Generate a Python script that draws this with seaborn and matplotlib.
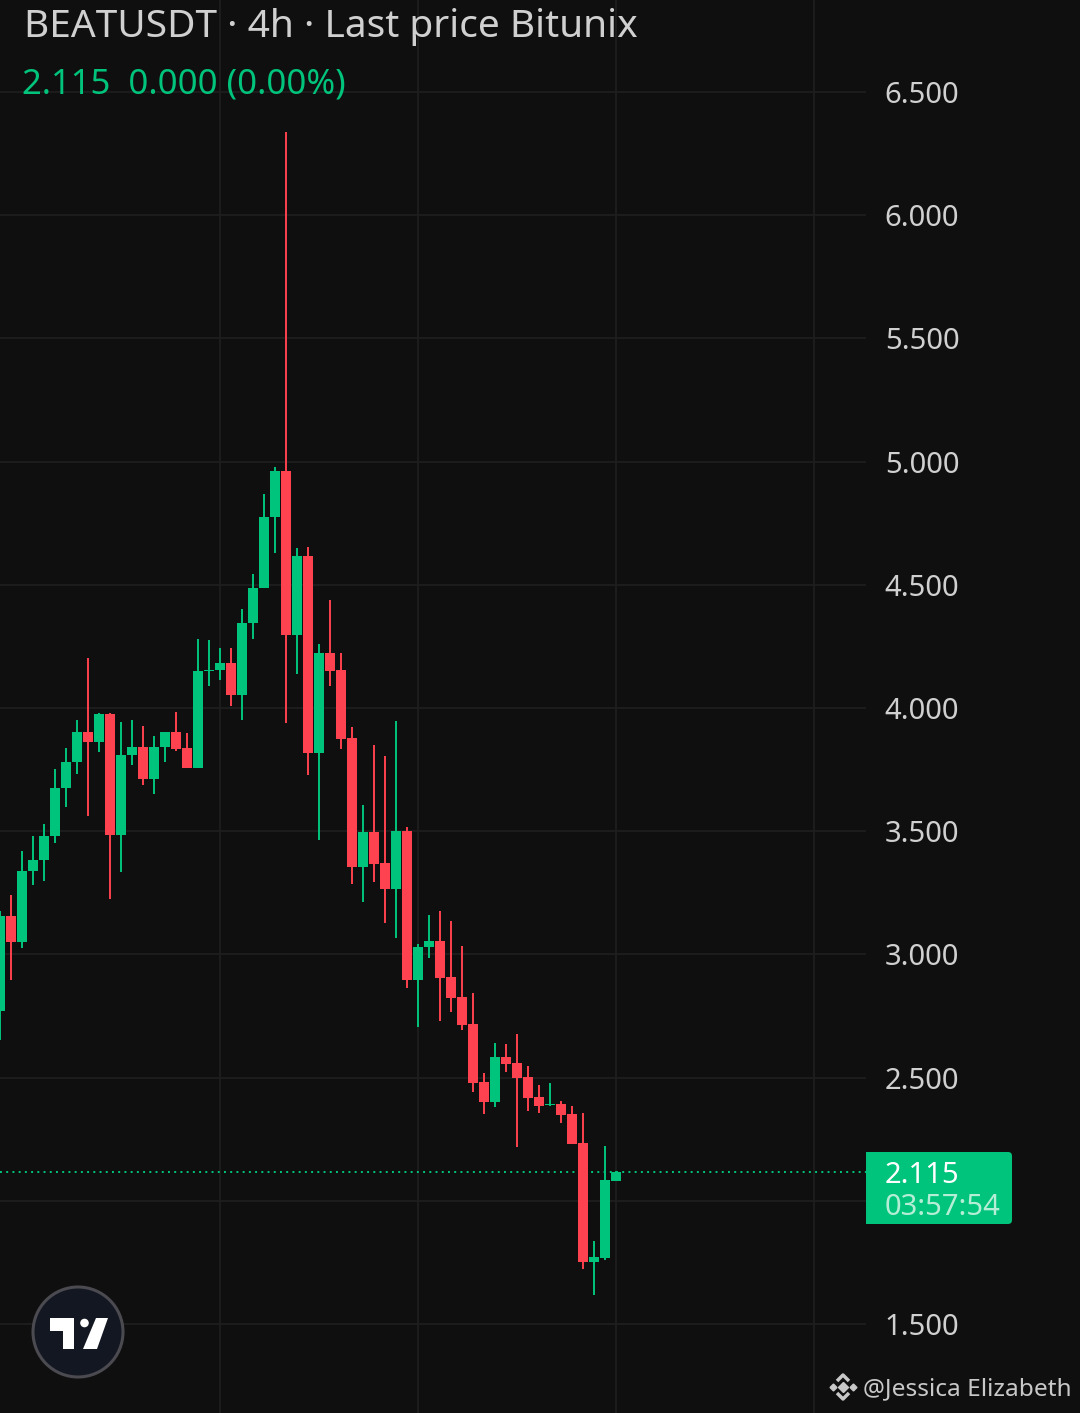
import numpy as np
import pandas as pd
import seaborn as sns
import matplotlib.pyplot as plt
from matplotlib.patches import Circle, Polygon, Rectangle, FancyBboxPatch

# 4h candles (oldest first)
opens = [2.772, 3.156, 3.052, 3.338, 3.383, 3.481, 3.675, 3.781, 3.903, 3.863,
         3.976, 3.486, 3.809, 3.842, 3.713, 3.842, 3.903, 3.838, 3.758, 4.150,
         4.155, 4.183, 4.053, 4.345, 4.487, 4.775, 4.962, 4.296, 4.617, 3.817,
         4.223, 4.154, 3.878, 3.355, 3.497, 3.371, 3.265, 3.501, 2.896, 3.030,
         3.054, 2.908, 2.827, 2.718, 2.482, 2.401, 2.584, 2.559, 2.502, 2.421,
         2.389, 2.393, 2.352, 2.235, 1.752, 1.768, 2.080]
highs = [3.176, 3.241, 3.420, 3.481, 3.529, 3.752, 3.838, 3.951, 4.203, 3.978,
         3.980, 3.943, 3.951, 3.927, 3.886, 3.903, 3.984, 3.899, 4.280, 4.276,
         4.244, 4.244, 4.402, 4.544, 4.869, 4.978, 6.338, 4.649, 4.653, 4.260,
         4.438, 4.223, 3.923, 3.606, 3.850, 3.805, 3.947, 3.517, 3.042, 3.160,
         3.176, 3.136, 3.034, 2.843, 2.519, 2.640, 2.636, 2.677, 2.547, 2.470,
         2.478, 2.405, 2.385, 2.356, 1.837, 2.222, 2.123]
lows = [2.653, 2.896, 3.027, 3.282, 3.298, 3.453, 3.599, 3.733, 3.563, 3.823,
        3.226, 3.336, 3.770, 3.689, 3.652, 3.781, 3.827, 3.758, 3.758, 4.089,
        4.114, 4.008, 3.951, 4.280, 4.487, 4.629, 3.939, 4.138, 3.728, 3.464,
        4.089, 3.834, 3.286, 3.213, 3.294, 3.127, 3.067, 2.864, 2.705, 2.985,
        2.730, 2.766, 2.693, 2.442, 2.352, 2.381, 2.523, 2.218, 2.364, 2.356,
        2.385, 2.316, 2.231, 1.723, 1.618, 1.760, 2.080]
closes = [3.156, 3.052, 3.338, 3.383, 3.481, 3.675, 3.781, 3.903, 3.863, 3.976,
          3.486, 3.809, 3.842, 3.713, 3.842, 3.903, 3.835, 3.758, 4.150, 4.155,
          4.183, 4.053, 4.345, 4.487, 4.775, 4.962, 4.296, 4.617, 3.817, 4.223,
          4.150, 3.874, 3.355, 3.497, 3.367, 3.265, 3.501, 2.896, 3.030, 3.054,
          2.904, 2.823, 2.714, 2.478, 2.401, 2.584, 2.555, 2.498, 2.417, 2.385,
          2.393, 2.348, 2.231, 1.752, 1.772, 2.084, 2.115]

price_ticks = [1.5, 2.0, 2.5, 3.0, 3.5, 4.0, 4.5, 5.0, 5.5, 6.0, 6.5]
day_marks = [20, 38, 56, 74]
last_price = 2.115
title = "BEATUSDT · 4h · Last price Bitunix"
change_text = "2.115  0.000 (0.00%)"
countdown = "03:57:54"
credit = "@Jessica Elizabeth"

bg = "#0f0f0f"
grid_c = "#1e1e1e"
up_c = "#00c47c"
down_c = "#ff424f"
text_c = "#d0d0d0"

df = pd.DataFrame({"open": opens, "high": highs, "low": lows, "close": closes})
df["idx"] = np.arange(len(df))
df["up"] = df["close"] >= df["open"]
df["color"] = np.where(df["up"], up_c, down_c)
df["bottom"] = df[["open", "close"]].min(axis=1)
df["height"] = (df["close"] - df["open"]).abs().clip(lower=0.005)

sns.set_theme(style="dark", rc={
    "axes.facecolor": bg, "figure.facecolor": bg,
    "axes.edgecolor": bg, "grid.color": grid_c,
})
plt.rcParams["font.family"] = ["Noto Sans", "DejaVu Sans"]

fig = plt.figure(figsize=(10.8, 14.13), dpi=100)
ax = fig.add_axes([0, 0, 866 / 1080, 1])
ax.set_xlim(0, 866 / 11)
ax.set_ylim(1.1389, 6.8734)

ax.vlines(df["idx"], df["low"], df["high"], colors=df["color"], linewidth=1.4, zorder=2)
ax.bar(df["idx"], df["height"], bottom=df["bottom"], width=0.88,
       color=df["color"], linewidth=0, zorder=3)
ax.axhline(last_price, color=up_c, linestyle=(0, (1, 2.2)), linewidth=1.4, zorder=1)

ax.set_axisbelow(True)
ax.set_xticks(day_marks)
ax.set_xticklabels([])
ax.set_yticks(price_ticks)
# the 2.000 label sits behind the last-price tag
ax.set_yticklabels(["" if t == 2.0 else f"{t:.3f}" for t in price_ticks])
ax.yaxis.tick_right()
ax.tick_params(axis="both", length=0)
ax.tick_params(axis="y", pad=13.5, labelsize=21, labelcolor=text_c)
ax.grid(True, color=grid_c, linewidth=1.3)
for s in ax.spines.values():
    s.set_visible(False)

# overlay in pixel coordinates for header, price tag, logo and credit
ov = fig.add_axes([0, 0, 1, 1])
ov.set_xlim(0, 1080)
ov.set_ylim(1413, 0)
ov.axis("off")
ov.patch.set_alpha(0)

ov.text(24, 37, title, fontsize=28, color=text_c, va="baseline")
ov.text(22, 93.5, change_text, fontsize=25, color=up_c, va="baseline")

ov.add_patch(FancyBboxPatch((866, 1152), 146, 72, boxstyle="round,pad=0,rounding_size=4",
                            facecolor=up_c, edgecolor="none"))
ov.add_patch(Rectangle((866, 1152), 20, 72, facecolor=up_c, edgecolor="none"))
ov.text(885, 1183, f"{last_price:.3f}", fontsize=21, color="white", va="baseline")
ov.text(885, 1215, countdown, fontsize=21, color="#b5eed6", va="baseline")

# TradingView badge
ov.add_patch(Circle((78, 1332), 45, facecolor="#131722", edgecolor="#4a4a50", linewidth=2.2))
ov.add_patch(Polygon([(50, 1318), (74, 1318), (74, 1349), (63, 1349), (63, 1331), (50, 1331)],
                     closed=True, facecolor="white", edgecolor="none"))
ov.add_patch(Circle((84.5, 1323), 4.3, facecolor="white", edgecolor="none"))
ov.add_patch(Polygon([(96, 1318), (108, 1318), (97, 1349), (83, 1349)],
                     closed=True, facecolor="white", edgecolor="none"))

# small binance-style mark before the credit
ic = "#c8c8c8"
ov.plot([843], [1387], marker="D", markersize=5, color=ic)
ov.plot([833, 853], [1387, 1387], marker="D", markersize=3.5, linestyle="none", color=ic)
ov.plot([837, 843, 849], [1381, 1375, 1381], color=ic, linewidth=2.5, solid_capstyle="butt")
ov.plot([837, 843, 849], [1393, 1399, 1393], color=ic, linewidth=2.5, solid_capstyle="butt")
ov.text(863, 1395, credit, fontsize=17.6, color=ic, va="baseline")

fig.savefig("out.png", dpi=100, facecolor=bg)
